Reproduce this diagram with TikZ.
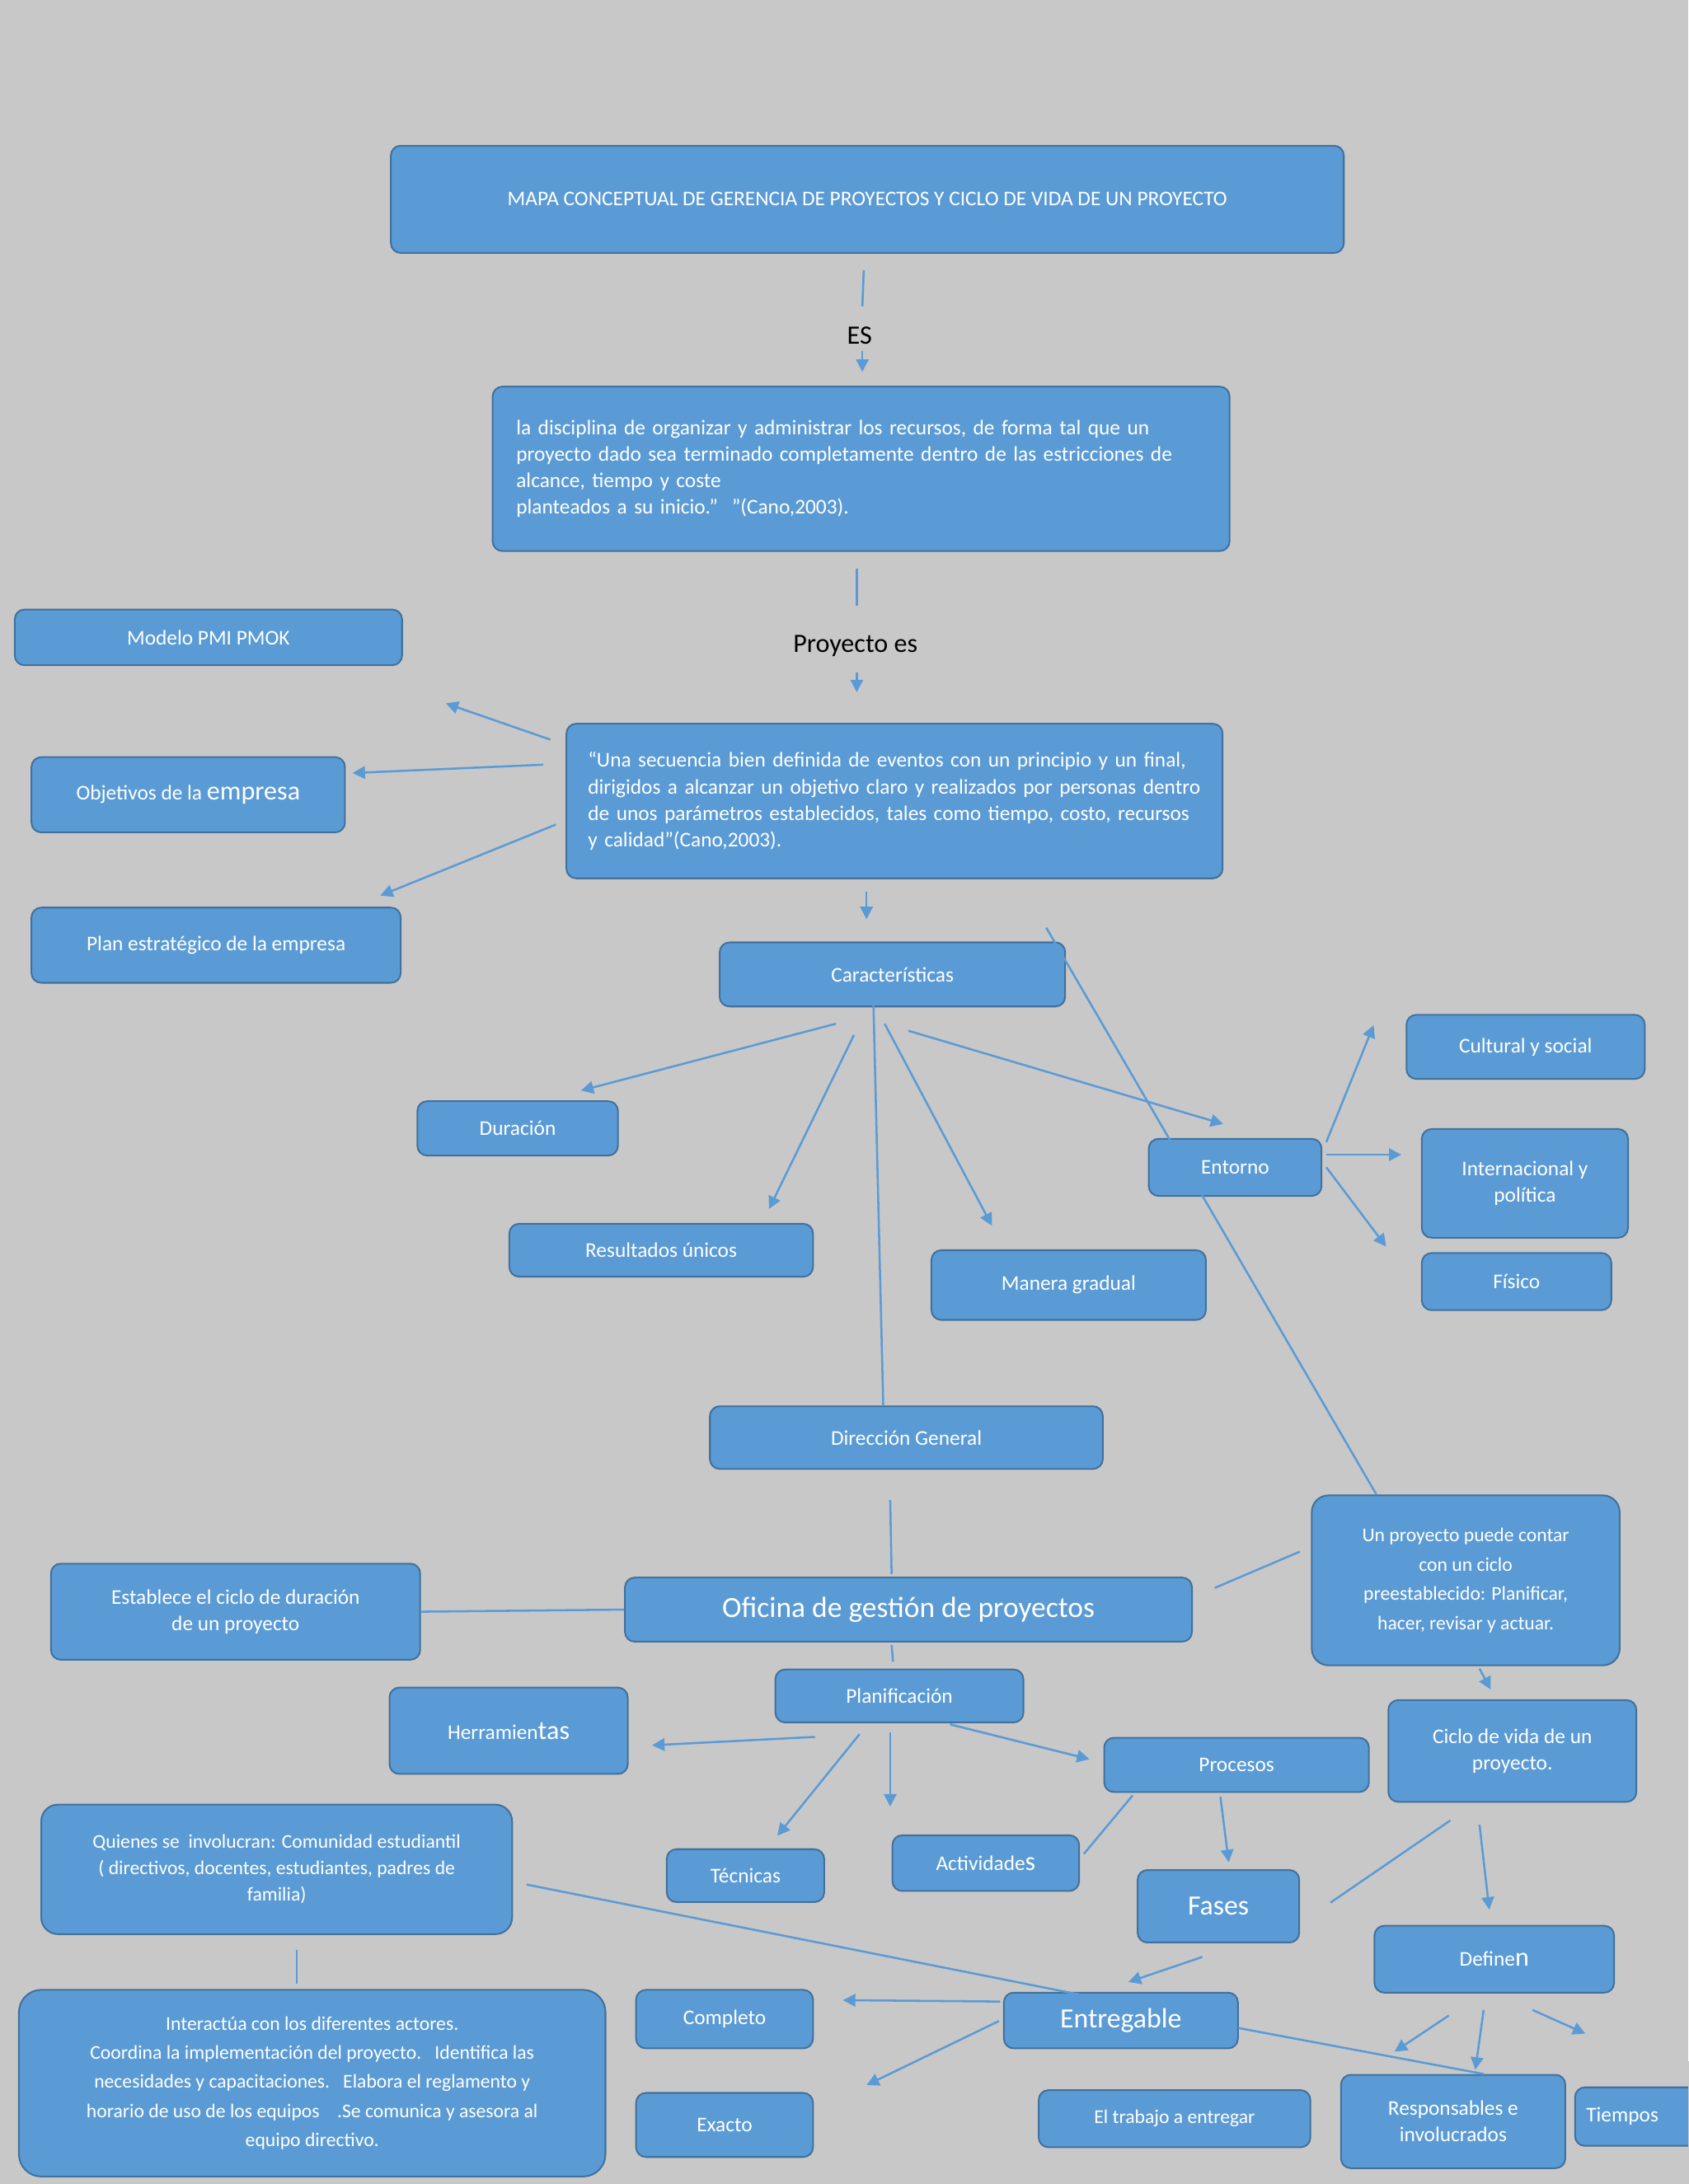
\documentclass[tikz,border=0pt]{standalone}
\usepackage{fontspec}
\setmainfont{Carlito}
\usetikzlibrary{arrows.meta}
\definecolor{bg}{HTML}{C8C8C8}
\definecolor{bx}{HTML}{5B9BD5}
\definecolor{bd}{HTML}{41719C}
\tikzset{
 bb/.style={draw=bd,line width=1.2pt,fill=bx,rounded corners=7pt,text=white,font=\fontsize{15}{19}\selectfont,align=center},
 ln/.style={draw=bx,line width=1.5pt},
 ar/.style={ln,-{Triangle[width=9pt,length=9pt]}},
 lbl/.style={font=\fontsize{19}{22}\selectfont,text=black}
}
\newcommand{\bxn}[6]{\node[bb,minimum width=#4-#2,minimum height=#5-#3,anchor=north west] (#1) at (#2,#3) {#6};}
\begin{document}
\begin{tikzpicture}[x=1pt,y=-1pt]
\fill[bg] (0,0) rectangle (1212,1568);
\useasboundingbox (0,0) rectangle (1212,1568);
\bxn{title}{280}{104}{964}{181}{MAPA CONCEPTUAL DE GERENCIA DE PROYECTOS Y CICLO DE VIDA DE UN PROYECTO}
\node[lbl] (es) at (617,241) {ES};
\node[bb,align=left,minimum width=529,minimum height=118,anchor=north west,text width=495] (def) at (353,277) {la disciplina de organizar y administrar los recursos, de forma tal que un proyecto dado sea terminado completamente dentro de las estricciones de alcance, tiempo y coste\\planteados a su inicio.''\ \ ''(Cano,2003).};
\node[lbl] (pes) at (614,464) {Proyecto es};
\bxn{modelo}{10}{437}{288}{477}{Modelo PMI PMOK}
\bxn{obj}{22}{543}{247}{597}{Objetivos de la {\fontsize{19}{22}\selectfont empresa}}
\bxn{plan}{22}{651}{287}{705}{Plan estratégico de la empresa}
\node[bb,align=left,minimum width=471,minimum height=111,anchor=north west,text width=440] (quote) at (406,519) {“Una secuencia bien definida de eventos con un principio y un final, dirigidos a alcanzar un objetivo claro y realizados por personas dentro de unos parámetros establecidos, tales como tiempo, costo, recursos y calidad”(Cano,2003).};
\bxn{car}{516}{676}{764}{722}{Características}
\bxn{dur}{299}{790}{443}{829}{Duración}
\bxn{res}{365}{878}{583}{916}{Resultados únicos}
\bxn{man}{668}{897}{865}{947}{Manera gradual}
\bxn{ent}{824}{817}{948}{858}{Entorno}
\bxn{cul}{1009}{728}{1180}{774}{Cultural y social}
\bxn{int}{1020}{810}{1168}{888}{Internacional y\\política}
\bxn{fis}{1020}{899}{1156}{940}{Físico}
\bxn{dir}{509}{1009}{791}{1054}{Dirección General}
\node[bb,minimum width=407,minimum height=46,anchor=north west,font=\fontsize{21}{24}\selectfont] (ofi) at (448,1132) {Oficina de gestión de proyectos};
\bxn{est}{36}{1122}{301}{1191}{Establece el ciclo de duración\\de un proyecto}
\node[bb,minimum width=221,minimum height=122,anchor=north west,font=\fontsize{14}{21}\selectfont,rounded corners=12pt] (unp) at (941,1073) {Un proyecto puede contar\\con un ciclo\\preestablecido: Planificar,\\hacer, revisar y actuar.};
\bxn{pla}{556}{1198}{734}{1236}{Planificación}
\node[bb,minimum width=171,minimum height=62,anchor=north west] (her) at (279,1211) {Herramien{\fontsize{19}{22}\selectfont tas}};
\bxn{pro}{792}{1247}{982}{1286}{Procesos}
\bxn{cic}{996}{1220}{1174}{1293}{Ciclo de vida de un\\proyecto.}
\node[bb,minimum width=338,minimum height=93,anchor=north west,font=\fontsize{14}{19}\selectfont,rounded corners=12pt] (qui) at (29,1295) {Quienes se\ \ involucran: Comunidad estudiantil\\( directivos, docentes, estudiantes, padres de\\familia)};
\bxn{tec}{478}{1327}{591}{1365}{Técnicas}
\bxn{act}{640}{1317}{774}{1357}{Actividade{\fontsize{19}{22}\selectfont s}}
\node[bb,minimum width=116,minimum height=52,anchor=north west,font=\fontsize{20}{24}\selectfont] (fas) at (816,1342) {Fases};
\bxn{defn}{986}{1382}{1158}{1430}{Define{\fontsize{19}{22}\selectfont n}}
\node[bb,minimum width=421,minimum height=134,anchor=north west,font=\fontsize{14}{21}\selectfont,rounded corners=16pt] (inter) at (13,1428) {Interactúa con los diferentes actores.\\Coordina la implementación del proyecto.\ \ \ Identifica las\\necesidades y capacitaciones.\ \ \ Elabora el reglamento y\\horario de uso de los equipos\ \ \ \ .Se comunica y asesora al\\equipo directivo.};
\bxn{com}{456}{1428}{583}{1470}{Completo}
\node[bb,minimum width=168,minimum height=40,anchor=north west,font=\fontsize{20}{24}\selectfont] (entr) at (720,1430) {Entregable};
\bxn{exa}{456}{1502}{583}{1548}{Exacto}
\node[bb,minimum width=195,minimum height=41,anchor=north west,font=\fontsize{14}{18}\selectfont] (tra) at (745,1500) {El trabajo a entregar};
\bxn{resp}{962}{1489}{1123}{1556}{Responsables e\\involucrados}
\node[bb,minimum width=100,minimum height=42,anchor=north west,text width=84,align=left] (tie) at (1130,1498) {Tiempos};
\fill[bg] (1212,1480) rectangle (1260,1568);
\useasboundingbox (0,0) rectangle (1212,1568);
% connectors
\draw[ln] (620,194) -- (619,220);
\draw[ar] (619,252) -- (619,267);
\draw[ln] (615,408) -- (615,435);
\draw[ar] (615,483) -- (615,497);
\draw[ar] (395,531) -- (320,505);
\draw[ar] (390,549) -- (253,555);
\draw[ar] (399,592) -- (273,643);
\draw[ar] (622,640) -- (622,660);
\draw[ln] (751,666) -- (988,1073);
\draw[ar] (600,735) -- (417,783);
\draw[ar] (613,743) -- (552,868);
\draw[ar] (635,735) -- (712,880);
\draw[ar] (652,740) -- (878,807);
\draw[ln] (627,722) -- (634,1009);
\draw[ar] (952,820) -- (986,736);
\draw[ar] (952,829) -- (1006,829);
\draw[ar] (952,838) -- (995,895);
\draw[ln] (639,1077) -- (640,1130);
\draw[ln] (est.east) -- (ofi.west);
\draw[ln] (872,1140) -- (933,1114);
\draw[ar] (1062,1198) -- (1070,1213);
\draw[ln] (640,1181) -- (641,1193);
\draw[ar] (585,1247) -- (468,1253);
\draw[ar] (617,1245) -- (558,1318);
\draw[ar] (639,1244) -- (639,1297);
\draw[ar] (682,1238) -- (782,1263);
\draw[ln] (778,1331) -- (813,1289);
\draw[ar] (876,1290) -- (882,1337);
\draw[ln] (955,1366) -- (1041,1307);
\draw[ar] (1062,1310) -- (1069,1371);
\draw[ar] (863,1405) -- (810,1423);
\draw[ln] (378,1353) -- (775,1432);
\draw[ln] (213,1400) -- (213,1424);
\draw[ar] (718,1437) -- (605,1436);
\draw[ar] (717,1451) -- (622,1497);
\draw[ln] (889,1456) -- (1065,1489);
\draw[ar] (1040,1447) -- (1001,1473);
\draw[ar] (1065,1443) -- (1059,1486);
\draw[ar] (1100,1443) -- (1138,1460);
\end{tikzpicture}
\end{document}
